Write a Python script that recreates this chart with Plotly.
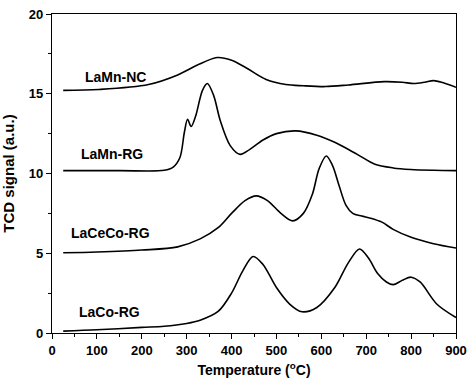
import plotly.graph_objects as go

nc_x = [25, 105, 215, 280, 324, 368, 400, 434, 477, 521, 560, 609, 660, 740, 780, 806, 830, 850, 870, 900]
nc_y = [15.21, 15.27, 15.58, 16.18, 16.8, 17.27, 17.1, 16.6, 15.9, 15.58, 15.5, 15.45, 15.55, 15.76, 15.72, 15.64, 15.72, 15.82, 15.7, 15.4]

rg_x = [25, 150, 250, 270, 285, 295, 302, 310, 320, 335, 346, 360, 375, 397, 419, 440, 470, 500, 543, 590, 631, 680, 718, 760, 799, 850, 900]
rg_y = [10.18, 10.18, 10.2, 10.4, 11.0, 12.6, 13.4, 12.95, 13.6, 15.2, 15.64, 14.9, 13.3, 11.75, 11.2, 11.5, 12.1, 12.5, 12.67, 12.4, 11.94, 11.2, 10.6, 10.35, 10.25, 10.2, 10.18]

ce_x = [25, 100, 200, 280, 330, 370, 400, 430, 455, 480, 510, 536, 560, 580, 595, 611, 625, 640, 655, 670, 690, 710, 735, 760, 800, 850, 900]
ce_y = [5.03, 5.08, 5.2, 5.4, 5.9, 6.6, 7.5, 8.3, 8.6, 8.3, 7.5, 7.03, 7.5, 8.7, 10.3, 11.1, 10.5, 9.2, 8.0, 7.5, 7.33, 7.2, 6.95, 6.5, 6.0, 5.6, 5.33]

co_x = [25, 100, 200, 250, 300, 330, 370, 400, 425, 448, 470, 500, 530, 557, 590, 630, 660, 685, 705, 725, 745, 760, 780, 800, 820, 857, 900]
co_y = [0.12, 0.2, 0.35, 0.42, 0.6, 0.8, 1.35, 2.5, 3.9, 4.8, 4.3, 2.85, 1.8, 1.33, 1.6, 2.85, 4.4, 5.27, 4.7, 3.75, 3.2, 3.03, 3.3, 3.5, 3.2, 1.82, 0.97]

labels = ["LaMn-NC", "LaMn-RG", "LaCeCo-RG", "LaCo-RG"]
label_x = [142, 134, 131, 128]
label_y = [16.06, 11.2, 6.3, 1.33]

x_ticks = [0, 100, 200, 300, 400, 500, 600, 700, 800, 900]
y_ticks = [0, 5, 10, 15, 20]

FAM = "Liberation Sans, Arial"

fig = go.Figure()
for xs, ys in [(nc_x, nc_y), (rg_x, rg_y), (ce_x, ce_y), (co_x, co_y)]:
    fig.add_trace(go.Scatter(x=xs, y=ys, mode="lines",
                             line=dict(color="black", width=1.6, shape="spline", smoothing=0.9),
                             showlegend=False, hoverinfo="skip"))

for t, lx, ly in zip(labels, label_x, label_y):
    fig.add_annotation(x=lx, y=ly, text="<b>%s</b>" % t, showarrow=False,
                       font=dict(family=FAM, size=14, color="black"))

fig.update_layout(
    width=474, height=383,
    margin=dict(l=52, r=11, t=7, b=46),
    plot_bgcolor="white", paper_bgcolor="white",
    font=dict(family=FAM, size=13, color="black"),
    xaxis=dict(range=[0, 900], tickvals=x_ticks, ticktext=["<b>%d</b>" % v for v in x_ticks],
               tickfont=dict(family=FAM, size=13, color="black"),
               showgrid=False, zeroline=False, showline=True, linecolor="black", linewidth=1.2,
               mirror=True, ticks="outside", ticklen=5, tickwidth=1.2, tickcolor="black",
               minor=dict(dtick=50, ticks="outside", ticklen=3, tickcolor="black", tickwidth=1),
               title=dict(text="<b>Temperature (<sup>o</sup>C)</b>", font=dict(family=FAM, size=14, color="black"), standoff=8)),
    yaxis=dict(range=[0, 20], tickvals=y_ticks, ticktext=["<b>%d</b>" % v for v in y_ticks],
               tickfont=dict(family=FAM, size=13, color="black"),
               showgrid=False, zeroline=False, showline=True, linecolor="black", linewidth=1.2,
               mirror=True, ticks="outside", ticklen=5, tickwidth=1.2, tickcolor="black",
               minor=dict(dtick=2.5, ticks="outside", ticklen=3, tickcolor="black", tickwidth=1),
               title=dict(text="<b>TCD signal (a.u.)</b>", font=dict(family=FAM, size=15, color="black"), standoff=10)),
)

fig.write_html("out.html")
